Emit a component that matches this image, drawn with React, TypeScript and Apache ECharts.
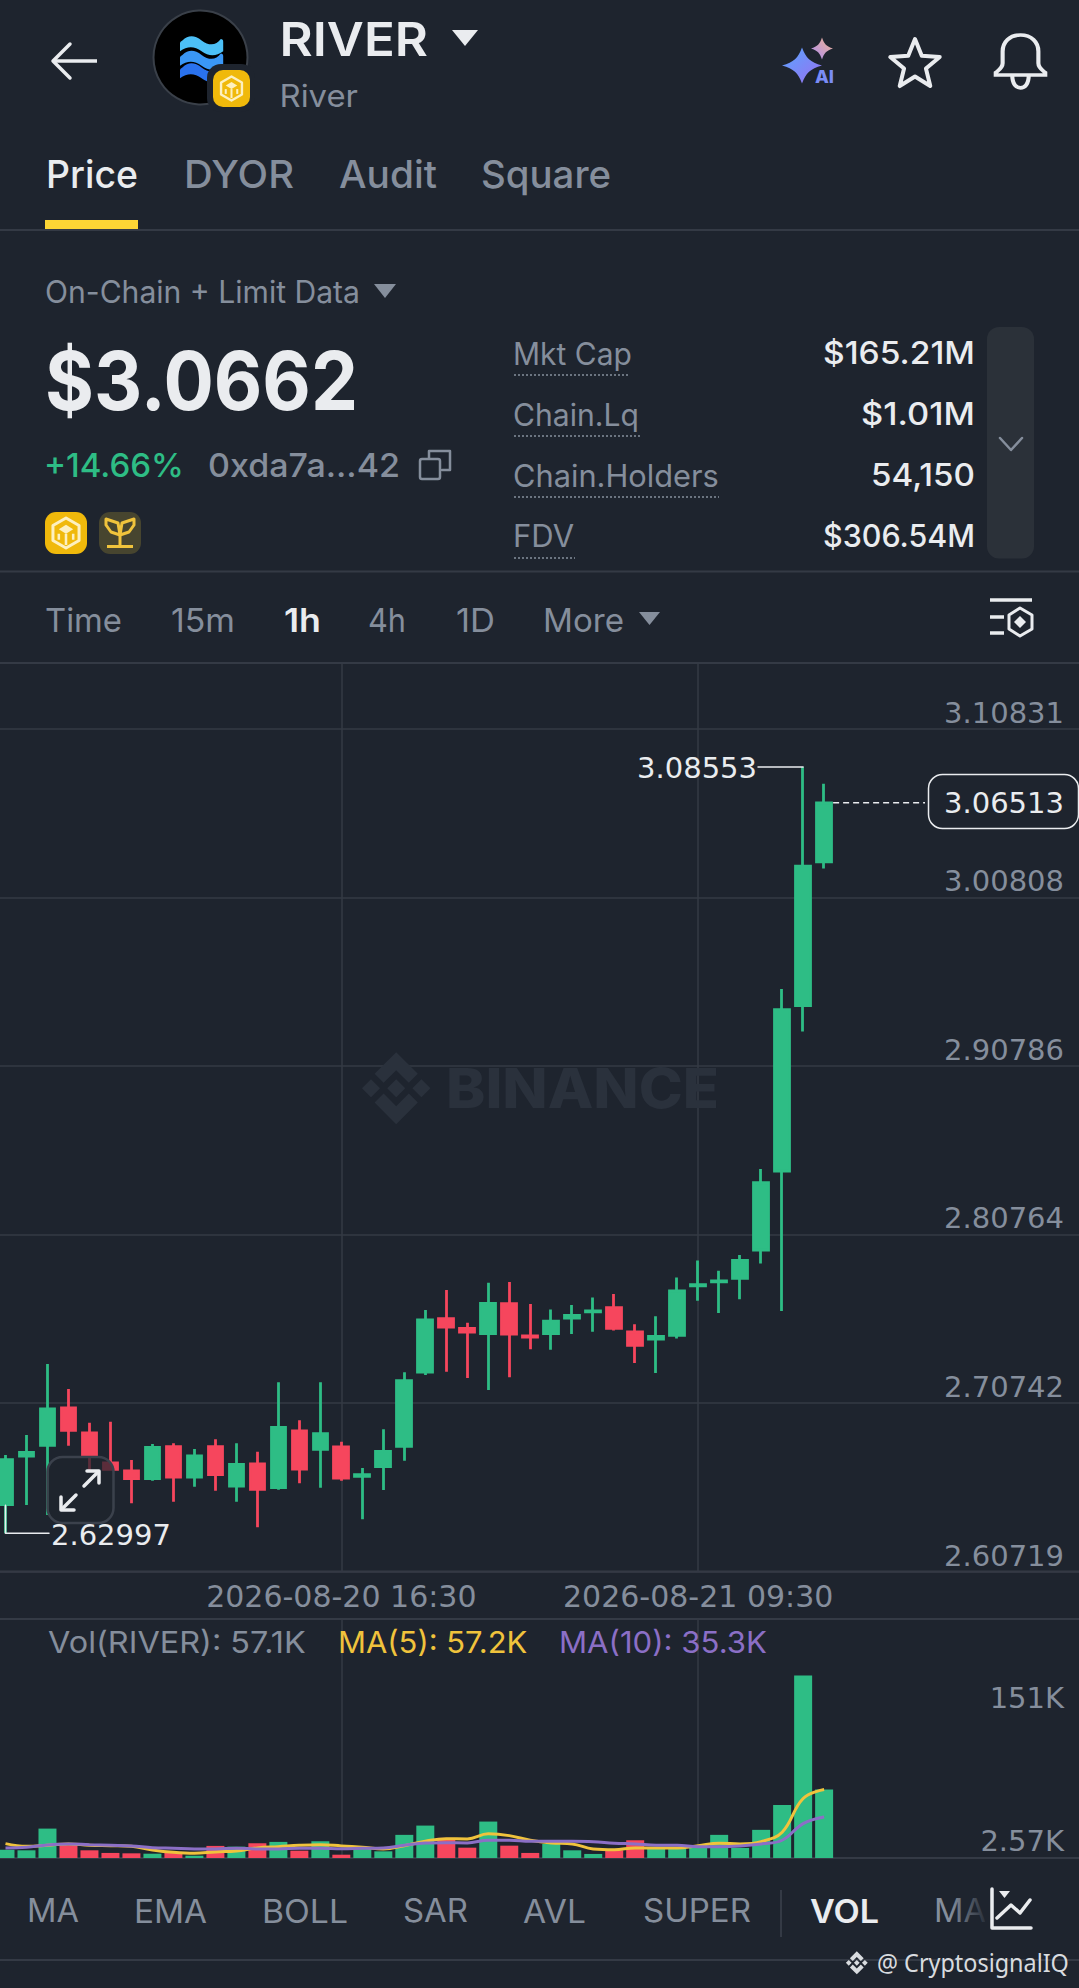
import React, { useEffect, useRef } from "react";
import * as echarts from "echarts";

const times = [
  "2026-08-20 00:30","2026-08-20 01:30","2026-08-20 02:30","2026-08-20 03:30","2026-08-20 04:30","2026-08-20 05:30","2026-08-20 06:30","2026-08-20 07:30",
  "2026-08-20 08:30","2026-08-20 09:30","2026-08-20 10:30","2026-08-20 11:30","2026-08-20 12:30","2026-08-20 13:30","2026-08-20 14:30","2026-08-20 15:30",
  "2026-08-20 16:30","2026-08-20 17:30","2026-08-20 18:30","2026-08-20 19:30","2026-08-20 20:30","2026-08-20 21:30","2026-08-20 22:30","2026-08-20 23:30",
  "2026-08-21 00:30","2026-08-21 01:30","2026-08-21 02:30","2026-08-21 03:30","2026-08-21 04:30","2026-08-21 05:30","2026-08-21 06:30","2026-08-21 07:30",
  "2026-08-21 08:30","2026-08-21 09:30","2026-08-21 10:30","2026-08-21 11:30","2026-08-21 12:30","2026-08-21 13:30","2026-08-21 14:30","2026-08-21 15:30",
];
const emptySlots = ["","","","","","","","","","","",""];
const categories = [...times, ...emptySlots];
const labelledTimes = ["2026-08-20 16:30", "2026-08-21 09:30"];

const opens = [2.64699,2.67593,2.68227,2.70447,2.6896,2.67176,2.66701,2.66245,2.68147,2.66344,2.68147,2.65809,2.67117,2.6571,2.69079,2.67989,2.68128,2.66384,2.66958,2.68167,2.72587,2.75759,2.75184,2.74867,2.7665,2.74728,2.74867,2.75796,2.76167,2.76406,2.74973,2.74548,2.7476,2.77707,2.77946,2.78158,2.7983,2.84529,2.94377,3.02925];
const closes = [2.67375,2.67811,2.70387,2.69119,2.67632,2.668,2.66245,2.68108,2.66344,2.67593,2.66483,2.67097,2.65611,2.69297,2.6682,2.6892,2.66285,2.66483,2.6787,2.72072,2.75679,2.75263,2.74966,2.7667,2.74847,2.74668,2.7561,2.75955,2.7622,2.75185,2.74176,2.74708,2.77415,2.77787,2.77999,2.7922,2.83839,2.94138,3.02659,3.0643];
const lows = [2.62997,2.64679,2.64084,2.68207,2.6676,2.6672,2.64778,2.66126,2.64877,2.65769,2.65531,2.64877,2.63351,2.65591,2.65967,2.6571,2.66126,2.63827,2.65571,2.67315,2.72409,2.72607,2.72231,2.71517,2.7227,2.73935,2.73911,2.7484,2.74973,2.75052,2.7312,2.72529,2.74575,2.76831,2.76088,2.76911,2.79034,2.7622,2.92838,3.02526];
const highs = [2.67652,2.68841,2.73063,2.71576,2.69575,2.69634,2.67355,2.68306,2.68346,2.68009,2.68583,2.68346,2.6785,2.71973,2.69713,2.71973,2.68445,2.66879,2.69178,2.72568,2.76274,2.77463,2.75521,2.77899,2.77939,2.76631,2.763,2.76565,2.77017,2.77229,2.75424,2.75902,2.78211,2.7922,2.78609,2.79538,2.84662,2.95359,3.08553,3.0757];

const volumes = [9.2,8.7,26,12.7,8.7,6.6,6.3,6,7.4,4.4,12.2,11.6,14.3,15.4,8.4,15.9,5.2,9.8,7.9,21,28.4,18.6,10.8,31.6,12.4,6.6,13.8,8.7,5.8,8.7,16.7,10,10,11.9,21,10.6,25,44.7,148,57.1];
const ma5 = [14,11.9,12.7,13.8,12.7,12.4,11.9,9,7.1,6.3,7.4,8.2,10.6,11.6,12.7,13.2,12.2,11.1,9.8,12.4,15.9,18,17.8,21.8,20.4,16.7,14.6,13.8,9.8,9.2,10.6,10.6,10.6,12.4,14.3,13.8,15.6,23.1,50,57.2];
const ma10 = [10.6,11.1,13,13.8,13.2,12.7,12.2,10.8,10.3,9.8,9.8,10.3,9.8,9.8,10.3,10.3,10,10.3,10.6,12.7,14.6,14.8,14.6,16.7,16.7,15.9,15.9,15.9,15.6,14.3,13.8,12.7,12.7,11.6,11.6,12.2,13.8,16.7,30,35.3];

const priceTicks = [2.60719, 2.70742, 2.80764, 2.90786, 3.00808, 3.10831];
const volumeTicks = [2.57, 151];
const volumeTickLabels = ["2.57K", "151K"];

const statLabels = ["Mkt Cap", "Chain.Lq", "Chain.Holders", "FDV"];
const statValues = ["$165.21M", "$1.01M", "54,150", "$306.54M"];
const tabs = ["Price", "DYOR", "Audit", "Square"];
const intervals = ["Time", "15m", "1h", "4h", "1D", "More"];
const indicators = ["MA", "EMA", "BOLL", "SAR", "AVL", "SUPER", "VOL", "MA"];

const BG = "#1e242e";
const LINE = "#343a45";
const GRAY = "#858e9c";
const WHITE = "#eaecef";
const GREEN = "#2ebd85";
const RED = "#f6465d";
const YELLOW = "#f0c33c";
const PURPLE = "#8b6fc6";
const CREAM = "#fdf0c0";
const FONT = "Inter, 'Noto Sans', sans-serif";
const NUMFONT = "'DejaVu Sans', sans-serif";

echarts.graphic.registerShape("bnb", echarts.graphic.extendPath(
  "M12 9.5L14.5 12L12 14.5L9.5 12ZM5 9.5L7.5 12L5 14.5L2.5 12ZM19 9.5L21.5 12L19 14.5L16.5 12ZM12 2L18 8L15.5 10.5L12 7L8.5 10.5L6 8ZM12 22L18 16L15.5 13.5L12 17L8.5 13.5L6 16Z", {}));
echarts.graphic.registerShape("bell", echarts.graphic.extendPath(
  "M12 2C8 2 5.5 5 5.5 9V14C5.5 16 4 17 3 18V19H21V18C20 17 18.5 16 18.5 14V9C18.5 5 16 2 12 2ZM9 19C9 23 10.5 24.5 12 24.5S15 23 15 19", {}));
echarts.graphic.registerShape("spark", echarts.graphic.extendPath(
  "M0 -1C.2 -.4 .4 -.2 1 0C.4 .2 .2 .4 0 1C-.2 .4 -.4 .2 -1 0C-.4 -.2 -.2 -.4 0 -1Z", {}));
echarts.graphic.registerShape("wave", echarts.graphic.extendPath(
  "M2 4C7 0 12 0 18 4S30 8 34 3Q36 3 36 5V12C30 16 24 16 18 12S6 8 0 12V6Q0 5 2 4Z", {}));

const Z = 20;
const measurer = document.createElement("canvas").getContext("2d")!;
// text stretched horizontally so that it spans x0..x1
const fit = (text: string, x0: number, x1: number, y: number, size: number, fill: string, weight = 400, family = FONT, z = Z) => {
  const font = `${weight} ${size}px ${family}`;
  measurer.font = font;
  const w = measurer.measureText(text).width || 1;
  return {
    type: "text", z, silent: true, x: x0, y, scaleX: (x1 - x0) / w, scaleY: 1,
    style: { text, x: 0, y: 0, fill, font, textAlign: "left", textVerticalAlign: "middle" },
  };
};
const txt = (text: string, x: number, y: number, size: number, fill: any, weight = 400, align = "left", family = FONT, z = Z) => ({
  type: "text", z, silent: true,
  style: { text, x, y, fill, font: `${weight} ${size}px ${family}`, textAlign: align, textVerticalAlign: "middle" },
});
const line = (x1: number, y1: number, x2: number, y2: number, stroke: string, lineWidth = 1.5, lineDash?: number[]) => ({
  type: "line", z: Z, silent: true, shape: { x1, y1, x2, y2 }, style: { stroke, lineWidth, lineDash },
});
const rect = (x: number, y: number, width: number, height: number, fill: string, r = 0, stroke?: string, lineWidth = 1) => ({
  type: "rect", z: Z, silent: true, shape: { x, y, width, height, r }, style: { fill, stroke, lineWidth },
});
const poly = (points: number[][], fill: string) => ({ type: "polygon", z: Z, silent: true, shape: { points }, style: { fill } });
const outline = (points: number[][], stroke: string, lineWidth = 3) => ({
  type: "polygon", z: Z, silent: true, shape: { points }, style: { fill: "none", stroke, lineWidth, lineJoin: "round" },
});
const pline = (points: number[][], stroke: string, lineWidth = 3) => ({
  type: "polyline", z: Z, silent: true, shape: { points }, style: { stroke, lineWidth, fill: "none", lineCap: "round", lineJoin: "round" },
});
const shape = (type: string, x: number, y: number, sx: number, sy: number, style: any, z = Z) => ({ type, z, silent: true, x, y, scaleX: sx, scaleY: sy, style });

function star(cx: number, cy: number, R: number, r: number) {
  const pts: number[][] = [];
  for (let i = 0; i < 10; i++) {
    const a = -Math.PI / 2 + (i * Math.PI) / 5;
    const k = i % 2 ? r : R;
    pts.push([cx + k * Math.cos(a), cy + k * Math.sin(a)]);
  }
  return pts;
}

// the BNB Chain cube on the yellow badges
function cube(cx: number, cy: number, R: number) {
  const h = R * 0.87;
  return [
    outline([[cx, cy - R], [cx + h, cy - R / 2], [cx + h, cy + R / 2], [cx, cy + R], [cx - h, cy + R / 2], [cx - h, cy - R / 2]], CREAM, R * 0.2),
    poly([[cx, cy - R * 0.55], [cx + h * 0.55, cy - R * 0.25], [cx, cy + R * 0.05], [cx - h * 0.55, cy - R * 0.25]], CREAM),
    line(cx, cy + R * 0.05, cx, cy + R * 0.8, CREAM, R * 0.17),
    line(cx - h * 0.55, cy + R * 0.05, cx - h * 0.55, cy + R * 0.45, CREAM, R * 0.17),
    line(cx + h * 0.55, cy + R * 0.05, cx + h * 0.55, cy + R * 0.45, CREAM, R * 0.17),
  ];
}

function chrome() {
  const tabX = [[46, 138], [184, 294], [339, 437], [481, 611]];
  const intX = [[45, 122], [171, 235], [284, 321], [368, 406], [456, 495], [543, 624]];
  const statY = [353, 414, 475, 535];
  const statX = [632, 639, 719, 574];
  const valX = [823, 861, 871, 823];
  const statUnder = [[375, 630], [436, 640], [497, 719], [558, 575]];
  const indX = [[27, 79], [134, 207], [262, 348], [403, 468], [523, 586], [643, 751], [810, 879], [934, 986]];
  const sparkBig = new echarts.graphic.LinearGradient(0, 0, 1, 1, [{ offset: 0, color: "#58a6ff" }, { offset: 1, color: "#9a6ff0" }]);
  const sparkSmall = new echarts.graphic.LinearGradient(0, 1, 1, 0, [{ offset: 0, color: "#a98bf5" }, { offset: 1, color: "#f3b58e" }]);
  const els: any[] = [
    // header
    pline([[70, 44], [53, 61], [70, 78]], WHITE, 3.5),
    line(53, 61, 97, 61, WHITE, 3.5),
    { type: "circle", z: Z, silent: true, shape: { cx: 200.5, cy: 57.5, r: 47 }, style: { fill: "#000", stroke: "#3a4049", lineWidth: 2 } },
    shape("wave", 180, 35, 1.2, 1.35, { fill: "#4cc0f7" }),
    shape("wave", 180, 49.5, 1.2, 1.35, { fill: "#3a97f6" }),
    shape("wave", 180, 62, 1.2, 1.35, { fill: "#2a72ee" }),
    rect(207, 64, 48, 48, BG, 14),
    rect(213, 70, 37, 37, "#f0b90b", 10),
    ...cube(231.5, 88.5, 12),
    fit("RIVER", 279.5, 428, 39, 47, WHITE, 600),
    poly([[452, 30], [478, 30], [465, 46]], WHITE),
    fit("River", 279.5, 358, 96, 31, GRAY),
    shape("spark", 802, 65.5, 20, 18, { fill: sparkBig }),
    shape("spark", 822, 48.5, 11, 11, { fill: sparkSmall }),
    txt("AI", 824.5, 76, 18, "#7a8cf6", 800, "center"),
    { type: "polygon", z: Z, silent: true, shape: { points: star(915, 65, 26, 11.5) }, style: { fill: "none", stroke: WHITE, lineWidth: 4, lineJoin: "round" } },
    shape("bell", 987.5, 30.3, 2.75, 2.35, { fill: "none", stroke: WHITE, lineWidth: 1.5 }),
    // tabs
    ...tabs.map((t, i) => fit(t, tabX[i][0], tabX[i][1], 174, 38, i === 0 ? WHITE : GRAY, 500)),
    rect(45, 220, 93, 9, "#fcd535"),
    line(0, 230, 1079, 230, LINE, 2),
    // price block
    fit("On-Chain + Limit Data", 45, 360, 291, 31, GRAY),
    poly([[374, 284], [396, 284], [385, 298]], GRAY),
    fit("$3.0662", 45, 358, 380, 81, WHITE, 700),
    fit("+14.66%", 44, 184, 465, 33, GREEN, 500),
    fit("0xda7a...42", 208, 400, 465, 33, GRAY, 500),
    rect(420, 459, 20, 20, "none", 2, GRAY, 2.5),
    pline([[429, 458], [429, 451], [450, 451], [450, 470], [442, 470]], GRAY, 2.5),
    rect(45, 512, 42, 42, "#f0b90b", 11),
    ...cube(66, 533, 15),
    rect(99, 512, 42, 42, "#47452f", 11),
    line(120, 535, 120, 546, YELLOW, 3),
    line(107, 546.5, 133, 546.5, YELLOW, 3),
    outline([[106, 519], [118, 523], [120, 535], [111, 532], [106, 525]], YELLOW, 3),
    outline([[134, 519], [122, 523], [120, 535], [129, 532], [134, 525]], YELLOW, 3),
    ...statLabels.map((t, i) => fit(t, 513, statX[i], statY[i], 31, GRAY)),
    ...statUnder.map(([y, x2]) => line(514, y, x2, y, GRAY, 1.5, [2, 2])),
    ...statValues.map((t, i) => fit(t, valX[i], 975, statY[i], 31, WHITE, 500)),
    rect(987, 327, 47, 231.5, "#2b3139", 12),
    pline([[1000, 438], [1011, 450], [1022, 438]], GRAY, 2.5),
    line(0, 571.5, 1079, 571.5, LINE, 2),
    // interval row
    ...intervals.map((t, i) => fit(t, intX[i][0], intX[i][1], 620, 33, i === 2 ? WHITE : GRAY, i === 2 ? 600 : 400)),
    poly([[639, 612], [660, 612], [649.5, 625]], GRAY),
    line(990, 600, 1032, 600, WHITE, 3.5),
    line(990, 617, 1004, 617, WHITE, 3.5),
    line(990, 633, 1004, 633, WHITE, 3.5),
    outline([[1020, 608], [1032, 615], [1032, 629], [1020, 636], [1009, 629], [1009, 615]], WHITE, 3),
    poly([[1020, 616], [1026, 622], [1020, 628], [1014, 622]], WHITE),
    line(0, 663, 1079, 663, LINE, 2),
    // volume legend
    fit("Vol(RIVER): 57.1K", 48, 306, 1642, 30, GRAY),
    fit("MA(5): 57.2K", 338, 527.5, 1642, 30, YELLOW),
    fit("MA(10): 35.3K", 559, 767, 1642, 30, PURPLE),
    // indicator bar
    ...indicators.map((t, i) => fit(t, indX[i][0], indX[i][1], 1911, 32, i === 6 ? WHITE : GRAY, i === 6 ? 600 : 400)),
    line(781, 1890, 781, 1937, LINE, 2),
    { type: "rect", z: Z, silent: true, shape: { x: 950, y: 1880, width: 40, height: 60 }, style: { fill: new echarts.graphic.LinearGradient(0, 0, 1, 0, [{ offset: 0, color: "rgba(30,36,46,0)" }, { offset: 1, color: BG }]) } },
    rect(985, 1880, 94, 60, BG),
    pline([[992, 1889], [992, 1928], [1031, 1928]], WHITE, 3.5),
    poly([[999, 1891], [1010, 1891], [1004.5, 1898]], WHITE),
    pline([[997, 1918], [1011, 1905], [1020, 1913], [1030, 1900]], WHITE, 3.5),
    line(0, 1960, 1079, 1960, LINE, 2),
    shape("bnb", 843, 1949, 1.15, 1.15, { fill: "#d8dbdf" }, Z + 1),
    fit("@ CryptosignalIQ", 877, 1069, 1962, 26, "#d8dbdf", 400, "'Noto Sans', sans-serif", Z + 1),
    // watermark
    shape("bnb", 353, 1045, 3.6, 3.6, { fill: "#2a313c" }, 0),
    fit("BINANCE", 446, 719, 1088, 55, "#2a313c", 800, FONT, 0),
    // expand button
    rect(47.5, 1457, 66, 66, "rgba(30,36,46,0.72)", 15, "#3b414c", 2.5),
    pline([[84, 1486], [98, 1472]], WHITE, 3.5),
    pline([[87, 1471], [99, 1471], [99, 1483]], WHITE, 3.5),
    pline([[76, 1495], [62, 1509]], WHITE, 3.5),
    pline([[61, 1497], [61, 1510], [74, 1510]], WHITE, 3.5),
  ];
  return els;
}

function overlays(chart: any) {
  const hi = chart.convertToPixel({ gridIndex: 0 }, [38, highs[38]]);
  const lo = chart.convertToPixel({ gridIndex: 0 }, [0, lows[0]]);
  const last = chart.convertToPixel({ gridIndex: 0 }, [39, closes[39]]);
  return [
    pline([[hi[0], hi[1]], [758, hi[1]]], WHITE, 1.5),
    txt(highs[38].toFixed(5), 757, hi[1] + 1, 29, WHITE, 400, "right", NUMFONT),
    pline([[lo[0], lo[1] - 28], [lo[0], lo[1]], [49, lo[1]]], WHITE, 1.5),
    txt(lows[0].toFixed(5), 51, lo[1] + 2, 29, WHITE, 400, "left", NUMFONT),
    line(last[0] + 9, last[1], 925, last[1], WHITE, 1.5, [6, 4]),
    rect(928.5, 774.5, 150, 54, BG, 14, WHITE, 1.5),
    txt("3.06513", 1004, 803, 29, WHITE, 400, "center", NUMFONT),
  ];
}

export default function App() {
  const ref = useRef<HTMLDivElement>(null);
  useEffect(() => {
    document.body.style.margin = "0";
    document.body.style.background = BG;
    const chart = echarts.init(ref.current!, undefined, { renderer: "svg" });
    const gridX = { left: -5, width: 1091.5, outerBoundsMode: "none", containLabel: false };
    const vline = (i: number) => i === 16 || i === 33;
    const candles = opens.map((o, i) => [o, closes[i], lows[i], highs[i]]);
    chart.setOption({
      animation: false,
      backgroundColor: BG,
      grid: [
        { ...gridX, top: 663, height: 908.6, show: true, backgroundColor: "transparent", borderColor: LINE, borderWidth: 2 },
        { ...gridX, top: 1619, height: 239, show: true, backgroundColor: "transparent", borderColor: LINE, borderWidth: 2 },
      ],
      xAxis: [
        {
          type: "category", gridIndex: 0, data: categories, boundaryGap: true,
          axisLine: { show: false }, axisTick: { show: false },
          axisLabel: {
            interval: (_: number, v: string) => labelledTimes.includes(v),
            color: GRAY, fontFamily: NUMFONT, fontSize: 30, margin: 10, hideOverlap: false,
          },
          splitLine: { show: true, interval: vline, alignWithLabel: true, lineStyle: { color: LINE, width: 1.5 } },
        },
        {
          type: "category", gridIndex: 1, data: categories, boundaryGap: true,
          axisLine: { show: false }, axisTick: { show: false }, axisLabel: { show: false },
          splitLine: { show: true, interval: vline, alignWithLabel: true, lineStyle: { color: LINE, width: 1.5 } },
        },
      ],
      yAxis: [
        {
          type: "value", gridIndex: 0, position: "right", min: 2.60719, max: 3.14744,
          axisLine: { show: false },
          axisTick: { show: false, customValues: priceTicks },
          splitLine: { show: true, lineStyle: { color: LINE, width: 1.5 } },
          axisLabel: {
            customValues: priceTicks, inside: true, margin: 22.5, color: GRAY, fontFamily: NUMFONT, fontSize: 29,
            verticalAlign: "bottom", padding: [0, 0, 1.5, 0], formatter: (v: number) => v.toFixed(5),
          },
        },
        {
          type: "value", gridIndex: 1, position: "right", min: 2.57, max: 193,
          axisLine: { show: false },
          axisTick: { show: false, customValues: volumeTicks },
          splitLine: { show: false },
          axisLabel: {
            customValues: volumeTicks, inside: true, margin: 22.5, color: GRAY, fontFamily: NUMFONT, fontSize: 29,
            formatter: (v: number) => (v > 100 ? `{t|${volumeTickLabels[1]}}` : `{b|${volumeTickLabels[0]}}`),
            rich: {
              t: { color: GRAY, fontFamily: NUMFONT, fontSize: 29, padding: [53, 0, 0, 0] },
              b: { color: GRAY, fontFamily: NUMFONT, fontSize: 29, padding: [0, 0, 34, 0] },
            },
          },
        },
      ],
      series: [
        {
          type: "candlestick", xAxisIndex: 0, yAxisIndex: 0, data: candles, barWidth: 15.2, z: 3,
          itemStyle: { color: GREEN, color0: RED, borderColor: GREEN, borderColor0: RED, borderWidth: 2.8 },
        },
        {
          type: "bar", xAxisIndex: 1, yAxisIndex: 1, data: volumes, barWidth: 18, z: 2,
          itemStyle: { color: (p: any) => (closes[p.dataIndex] >= opens[p.dataIndex] ? GREEN : RED) },
        },
        {
          type: "line", xAxisIndex: 1, yAxisIndex: 1, data: ma5, smooth: 0.4, symbol: "none", z: 3,
          lineStyle: { color: YELLOW, width: 3 },
        },
        {
          type: "line", xAxisIndex: 1, yAxisIndex: 1, data: ma10, smooth: 0.4, symbol: "none", z: 4,
          lineStyle: { color: PURPLE, width: 3 },
        },
      ],
    });
    chart.setOption({ graphic: [...chrome(), ...overlays(chart)] });
    return () => chart.dispose();
  }, []);
  return <div ref={ref} style={{ position: "absolute", left: 0, top: 0, width: 1079, height: 1988 }} />;
}
